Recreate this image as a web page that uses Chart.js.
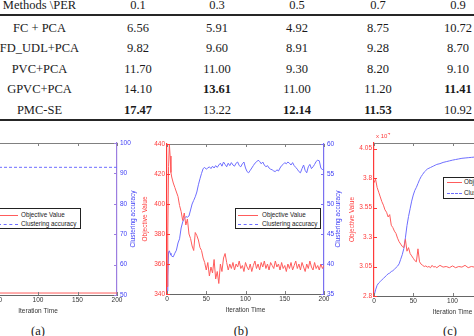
<!DOCTYPE html>
<html>
<head>
<meta charset="utf-8">
<script src="https://cdn.jsdelivr.net/npm/chart.js@4.4.1/dist/chart.umd.min.js"></script>
<style>
  body { margin: 0; background: #fff; }
  #page { position: relative; width: 474px; height: 336px; overflow: hidden; font-family: "Liberation Serif", "Times New Roman", serif; color: #1a1a1a; }
  .cell { position: absolute; width: 120px; text-align: center; font-size: 12.5px; line-height: 14px; white-space: nowrap; }
  .rule { position: absolute; left: 0; width: 474px; background: #262626; }
  canvas { position: absolute; }
  .leg { position: absolute; border: 1px solid #222; background: #fff; font-family: "Liberation Sans", Arial, sans-serif; font-size: 6.3px; color: #222; }
  .leg .smp { position: absolute; height: 0; }
  .leg .txt { position: absolute; line-height: 8px; white-space: nowrap; }
</style>
</head>
<body>
<div id="page">
  <canvas id="chartA" width="199" height="186" style="left:-60px;top:133px"></canvas>
  <canvas id="chartB" width="208" height="184" style="left:138px;top:134px"></canvas>
  <canvas id="chartC" width="197" height="187" style="left:344px;top:133px"></canvas>
</div>
<script>
// ---- table ----
const perLabels = ["0.1", "0.3", "0.5", "0.7", "0.9"];
const methods = ["FC + PCA", "FD_UDL+PCA", "PVC+PCA", "GPVC+PCA", "PMC-SE"];
const fcPca = [6.56, 5.91, 4.92, 8.75, 10.72];
const fdUdlPca = [9.82, 9.60, 8.91, 9.28, 8.70];
const pvcPca = [11.70, 11.00, 9.30, 8.20, 9.10];
const gpvcPca = [14.10, 13.61, 11.00, 11.20, 11.41];
const pmcSe = [17.47, 13.22, 12.14, 11.53, 10.92];

// ---- shared x axis ----
const xTicks = [0, 50, 100, 150, 200];

// ---- (a) ----
const iterA = [0, 50, 100, 150, 200];
const objA = [0.13, 0.13, 0.13, 0.13, 0.13];
const accA = [92, 92, 92, 92, 92];

// ---- (b) ----
const iterB = [0, 1, 2, 3, 4, 5, 6, 8, 10, 12,
  14, 16, 18, 20, 22, 24, 26, 28, 30, 32,
  34, 36, 38, 40, 42, 44, 46, 48, 50, 52,
  54, 56, 58, 60, 62, 64, 66, 68, 70, 72,
  74, 76, 78, 80, 82, 84, 86, 88, 90, 92,
  94, 96, 98, 100, 102, 104, 106, 108, 110, 112,
  114, 116, 118, 120, 122, 124, 126, 128, 130, 132,
  134, 136, 138, 140, 142, 144, 146, 148, 150, 152,
  154, 156, 158, 160, 162, 164, 166, 168, 170, 172,
  174, 176, 178, 180, 182, 184, 186, 188, 190, 192,
  194, 196, 198, 200];
const objB = [345, 380, 425, 440, 432, 421, 418, 414, 411, 408,
  405, 399, 395, 389, 394, 386, 390, 380, 377, 372,
  369, 381, 379, 376, 371, 369, 364, 361, 356, 361,
  352, 358, 354, 363, 350, 355, 347, 360, 355, 364,
  367, 361, 356, 360, 357, 361, 356, 360, 358, 362,
  357, 359, 355, 361, 358, 356, 360, 355, 359, 362,
  357, 360, 356, 361, 358, 362, 357, 360, 356, 361,
  359, 357, 362, 358, 360, 356, 361, 357, 359, 355,
  360, 357, 361, 356, 359, 362, 357, 360, 356, 361,
  358, 355, 360, 357, 362, 358, 356, 361, 357, 359,
  356, 360, 357, 359];
const accB = [35.5, 38, 42, 42.2, 41.8, 41.5, 41.3, 41.2, 41.8, 42.3,
  43.5, 44.2, 46, 47, 47.6, 47.9, 47.8, 48, 49, 50,
  50.6, 51.2, 52, 53.2, 54.2, 55.1, 55.9, 56.1, 55.8, 56,
  56.2, 55.9, 56.3, 56, 56.4, 56.1, 56.5, 56.8, 56.3, 57,
  56.6, 56.2, 56.8, 56.4, 56.9, 56.5, 56.3, 56.8, 57, 56.4,
  56.2, 56.7, 57, 56, 55.4, 55.2, 55.6, 56, 56.4, 56.8,
  57, 57.3, 57.1, 56.7, 57, 56.5, 56.2, 56.4, 56, 55.8,
  55.7, 55.5, 55.4, 55.7, 55.5, 56, 56.4, 56.6, 56.9, 56.7,
  57, 56.8, 56.5, 56.9, 56.4, 56.1, 55.8, 55.4, 55.2, 55.9,
  56.5, 55.6, 55.2, 56.2, 56.6, 55.9, 56.2, 56.6, 57.1, 57.3,
  57.2, 56, 55.7, 56];

// ---- (c) objective in units of 10^4 ----
const iterC = [0, 2, 4, 6, 8, 10, 12, 14, 16, 18,
  20, 22, 24, 26, 28, 30, 32, 34, 36, 38,
  40, 42, 44, 46, 48, 50, 52, 54, 56, 58,
  60, 62, 64, 66, 68, 70, 72, 74, 76, 78,
  80, 84, 88, 92, 96, 100, 104, 108, 112, 116,
  120, 124, 128, 132, 136, 140, 150, 160, 170, 180,
  190, 200];
const objC = [3.76, 3.79, 3.72, 3.68, 3.64, 3.60, 3.57, 3.53, 3.51, 3.47,
  3.49, 3.40, 3.38, 3.35, 3.33, 3.29, 3.26, 3.24, 3.22, 3.21,
  3.28, 3.18, 3.21, 3.16, 3.14, 3.12, 3.10, 3.09, 3.20, 3.09,
  3.07, 3.06, 3.05, 3.055, 3.045, 3.05, 3.04, 3.06, 3.045, 3.05,
  3.04, 3.06, 3.045, 3.05, 3.04, 3.055, 3.04, 3.05, 3.045, 3.06,
  3.04, 3.05, 3.045, 3.05, 3.04, 3.05, 3.045, 3.05, 3.04, 3.045,
  3.05, 3.04];
const accC = [0, 4, 7, 8.5, 9.5, 10.5, 11.5, 12.5, 13.5, 14.5,
  15, 16, 16.5, 17.5, 18.5, 19.5, 21, 24, 27, 31,
  38, 46, 52, 57, 62, 66, 69, 71, 73.5, 76,
  78, 79.5, 81, 82, 83, 83.5, 84, 84.5, 85, 85.5,
  86, 86.5, 87.3, 87.8, 88.3, 88.8, 89.2, 89.6, 90, 90.2,
  90.4, 90.6, 90.8, 91, 91.1, 91.2, 91.4, 91.5, 91.6, 91.7,
  91.8, 91.9];
const objTicksC = [2.8, 3.05, 3.3, 3.55, 3.8, 4.05];

const RED = "#ff5c5c";
const BLUE = "#6e6eff";
const RED_AXIS = "#ff3a3a";
const BLUE_AXIS = "#4040f5";
const SANS = '"Liberation Sans", Arial, sans-serif';

Chart.defaults.font.family = SANS;
Chart.defaults.font.size = 6.5;
Chart.defaults.animation = false;

function buildTable() {
  const page = document.getElementById("page");
  const colX = [39.5, 138, 217, 297, 378, 458];
  const rowY = [5, 28, 48, 69, 89, 110];
  const rows = [fcPca, fdUdlPca, pvcPca, gpvcPca, pmcSe];

  function cell(text, x, y, bold) {
    const d = document.createElement("div");
    d.className = "cell";
    d.textContent = text;
    d.style.left = x - 60 + "px";
    d.style.top = y - 7 + "px";
    if (bold) d.style.fontWeight = "bold";
    page.appendChild(d);
  }

  cell("Methods \\PER", colX[0], rowY[0]);
  perLabels.forEach((p, j) => cell(p, colX[j + 1], rowY[0]));
  rows.forEach((vals, i) => {
    cell(methods[i], colX[0], rowY[i + 1]);
    vals.forEach((v, j) => {
      const best = Math.max(...rows.map((r) => r[j]));
      cell(v.toFixed(2), colX[j + 1], rowY[i + 1], v === best);
    });
  });

  [[14, 2], [119, 2]].forEach(([top, h]) => {
    const r = document.createElement("div");
    r.className = "rule";
    r.style.top = top + "px";
    r.style.height = h + "px";
    page.appendChild(r);
  });

  [["(a)", 38], ["(b)", 241], ["(c)", 450]].forEach(([t, x]) => cell(t, x, 331));
}

function pts(xs, ys) {
  return xs.map((x, i) => ({ x: x, y: ys[i] }));
}

function xScale() {
  return {
    type: "linear",
    min: 0,
    max: 200,
    afterBuildTicks: (s) => {
      s.ticks = xTicks.map((v) => ({ value: v }));
    },
    ticks: { padding: 1, color: "#333", maxRotation: 0, autoSkip: false },
    grid: { display: false, drawTicks: false },
    border: { color: "#666" },
    title: { display: true, text: "Iteration Time", color: "#333", padding: { top: 0, bottom: 4 } },
    afterFit: (s) => {
      s.height = 24;
    },
  };
}

function yScale(position, min, max, step, color, width) {
  return {
    position: position,
    min: min,
    max: max,
    ticks: { stepSize: step, color: color, padding: position === "left" ? 2 : 3, autoSkip: false },
    grid: { display: false, drawTicks: false },
    border: { color: color, width: 1.2 },
    afterFit: (s) => {
      s.width = width;
    },
  };
}

// top frame, inward tick marks, right-hand axis title and the exponent label
const extrasPlugin = {
  id: "extras",
  afterDraw(chart, args, opts) {
    const { ctx, chartArea: a, scales } = chart;
    ctx.save();
    ctx.lineWidth = 1;
    ctx.strokeStyle = "#808080";
    ctx.beginPath();
    ctx.moveTo(a.left, a.top + 0.5);
    ctx.lineTo(a.right, a.top + 0.5);
    scales.x.ticks.forEach((t) => {
      const px = Math.round(scales.x.getPixelForValue(t.value)) + 0.5;
      ctx.moveTo(px, a.top);
      ctx.lineTo(px, a.top + 3);
      ctx.moveTo(px, a.bottom);
      ctx.lineTo(px, a.bottom - 3);
    });
    ctx.stroke();

    ["yObj", "yAcc"].forEach((id) => {
      const s = scales[id];
      if (!s || !s.options.display) return;
      const left = s.position === "left";
      const x0 = left ? a.left : a.right;
      ctx.strokeStyle = s.options.border.color;
      ctx.beginPath();
      s.ticks.forEach((t) => {
        const py = Math.round(s.getPixelForValue(t.value)) + 0.5;
        ctx.moveTo(x0, py);
        ctx.lineTo(left ? x0 + 3 : x0 - 3, py);
      });
      ctx.stroke();
    });

    if (opts.exponent) {
      ctx.fillStyle = RED_AXIS;
      ctx.textBaseline = "alphabetic";
      ctx.font = "6px " + SANS;
      ctx.fillText("x 10", a.left + 2, a.top - 5);
      const w = ctx.measureText("x 10").width;
      ctx.font = "4.5px " + SANS;
      ctx.fillText(opts.exponent, a.left + 2.5 + w, a.top - 8);
    }

    if (opts.rightTitle) {
      const t = opts.rightTitle;
      ctx.translate(a.right + t.dx, (a.top + a.bottom) / 2);
      ctx.rotate(-Math.PI / 2);
      ctx.fillStyle = t.color;
      ctx.font = "6.5px " + SANS;
      ctx.textAlign = "center";
      ctx.textBaseline = "middle";
      ctx.fillText(t.text, 0, 0);
    }
    ctx.restore();
  },
};

function datasets(iter, obj, acc, dash) {
  return [
    {
      label: "Objective Value",
      data: pts(iter, obj),
      yAxisID: "yObj",
      borderColor: RED,
      borderWidth: 1,
      pointRadius: 0,
      tension: 0,
    },
    {
      label: "Clustering accuracy",
      data: pts(iter, acc),
      yAxisID: "yAcc",
      borderColor: BLUE,
      borderWidth: 1,
      borderDash: dash,
      legendDash: true,
      pointRadius: 0,
      tension: 0,
    },
  ];
}

function baseOptions(padding) {
  return {
    responsive: false,
    devicePixelRatio: 1,
    layout: { padding: padding },
    plugins: { legend: { display: false }, tooltip: { enabled: false } },
  };
}

function addLegend(chart, box) {
  const page = document.getElementById("page");
  const el = document.createElement("div");
  el.className = "leg";
  el.style.left = box.x + "px";
  el.style.top = box.y + "px";
  el.style.width = box.w + "px";
  el.style.height = box.h + "px";
  chart.data.datasets.forEach((ds, i) => {
    const y = box.rows[i];
    const smp = document.createElement("div");
    smp.className = "smp";
    smp.style.left = box.s0 + "px";
    smp.style.width = box.s1 - box.s0 + "px";
    smp.style.top = y + "px";
    smp.style.borderTop = "1px " + (ds.legendDash ? "dashed " : "solid ") + ds.borderColor;
    const txt = document.createElement("div");
    txt.className = "txt";
    txt.style.left = box.tx + "px";
    txt.style.top = y - 4 + "px";
    txt.textContent = ds.label;
    el.appendChild(smp);
    el.appendChild(txt);
  });
  page.appendChild(el);
}

function setChartA() {
  const opts = baseOptions({ left: 19, top: 10, right: 0, bottom: 0 });
  opts.scales = {
    x: xScale(),
    yObj: Object.assign(yScale("left", 0, 10, 2, RED_AXIS, 0), { display: false }),
    yAcc: yScale("right", 50, 100, 10, BLUE_AXIS, 22),
  };
  opts.scales.yAcc.border.color = "#9c7ee0";
  opts.plugins.extras = { rightTitle: { text: "Clustering accuracy", color: BLUE_AXIS, dx: 16 } };
  const chart = new Chart(document.getElementById("chartA"), {
    type: "line",
    data: { datasets: datasets(iterA, objA, accA, [3, 2]) },
    options: opts,
    plugins: [extrasPlugin],
  });
  addLegend(chart, { x: -5, y: 208, w: 84, h: 19, rows: [6, 15], s0: 2, s1: 22, tx: 25 });
}

function setChartB() {
  const opts = baseOptions({ left: 0, top: 10, right: 0, bottom: 0 });
  opts.scales = {
    x: xScale(),
    yObj: yScale("left", 340, 440, 20, RED_AXIS, 29),
    yAcc: yScale("right", 35, 60, 5, BLUE_AXIS, 22),
  };
  opts.scales.yObj.title = { display: true, text: "Objective Value", color: RED_AXIS, padding: { top: 3, bottom: 0 } };
  opts.scales.yAcc.border.color = "#7a70f0";
  opts.plugins.extras = { rightTitle: { text: "Clustering accuracy", color: BLUE_AXIS, dx: 14 } };
  const chart = new Chart(document.getElementById("chartB"), {
    type: "line",
    data: { datasets: datasets(iterB, objB, accB, undefined) },
    options: opts,
    plugins: [extrasPlugin],
  });
  addLegend(chart, { x: 235, y: 208, w: 84, h: 19, rows: [6, 15], s0: 2, s1: 22, tx: 26 });
}

function setChartC() {
  const opts = baseOptions({ left: 0, top: 10, right: 10, bottom: 0 });
  const yObj = yScale("left", 2.8, 4.097, 0.25, RED_AXIS, 30);
  yObj.afterBuildTicks = (s) => {
    s.ticks = objTicksC.map((v) => ({ value: v }));
  };
  yObj.ticks.callback = (v) => String(v);
  yObj.title = { display: true, text: "Objective Value", color: RED_AXIS, padding: { top: 4, bottom: 0 } };
  opts.scales = {
    x: xScale(),
    yObj: yObj,
    yAcc: Object.assign(yScale("right", 0, 100, 20, BLUE_AXIS, 0), { display: false }),
  };
  opts.plugins.extras = { exponent: "4" };
  const chart = new Chart(document.getElementById("chartC"), {
    type: "line",
    data: { datasets: datasets(iterC, objC, accC, undefined) },
    options: opts,
    plugins: [extrasPlugin],
  });
  addLegend(chart, { x: 443, y: 177, w: 60, h: 20, rows: [4, 15], s0: 3, s1: 18, tx: 20 });
}

buildTable();
setChartA();
setChartB();
setChartC();
</script>
</body>
</html>
